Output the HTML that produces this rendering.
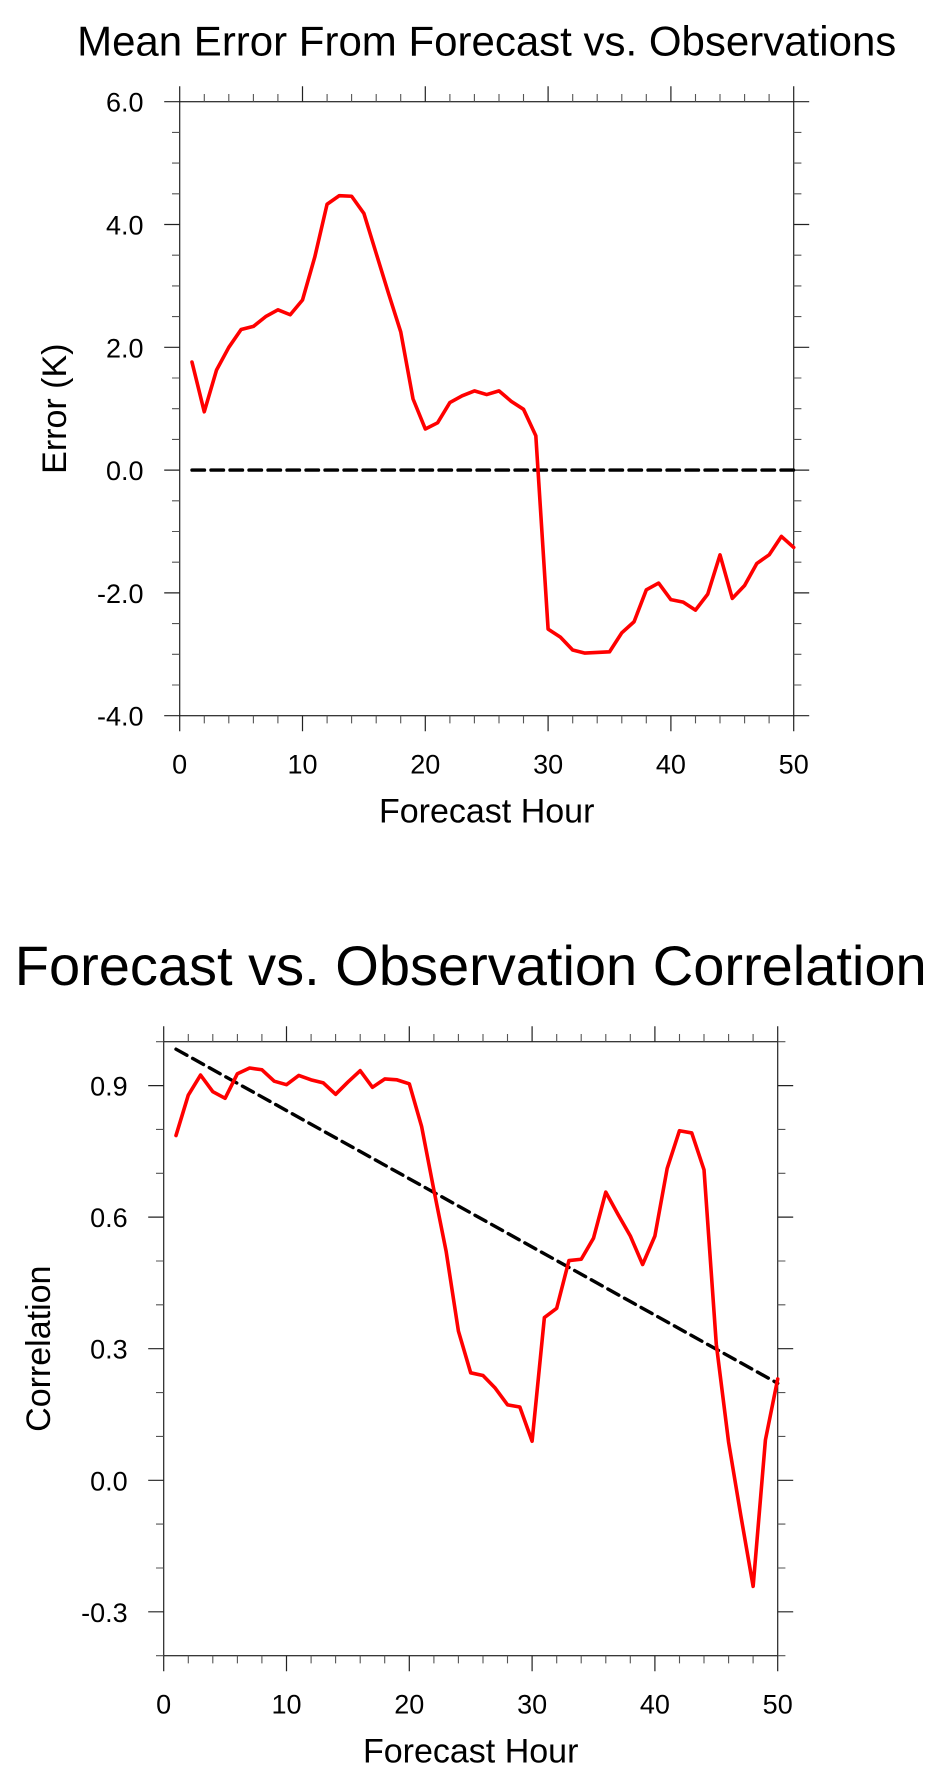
<!DOCTYPE html>
<html>
<head>
<meta charset="utf-8">
<style>
  html, body { margin: 0; padding: 0; background: #ffffff; }
  svg { display: block; }
  text { font-family: "Liberation Sans", "DejaVu Sans", sans-serif; fill: #000; }
</style>
</head>
<body>
<svg width="939" height="1773" viewBox="0 0 939 1773" xmlns="http://www.w3.org/2000/svg">
  <rect x="0" y="0" width="939" height="1773" fill="#ffffff"/>

  <!-- ================= PLOT 1 ================= -->
  <text x="486.7" y="55.7" font-size="42" text-anchor="middle">Mean Error From Forecast vs. Observations</text>

  <!-- frame -->
  <rect x="179.7" y="101.7" width="614" height="614" fill="none" stroke="#222" stroke-width="1.2"/>

  <!-- ticks -->
  <path fill="none" stroke="#222" stroke-width="1.2" d="
    M179.7 715.7V731.2 M302.5 715.7V731.2 M425.3 715.7V731.2 M548.1 715.7V731.2 M670.9 715.7V731.2 M793.7 715.7V731.2
    M179.7 101.7V86.2 M302.5 101.7V86.2 M425.3 101.7V86.2 M548.1 101.7V86.2 M670.9 101.7V86.2 M793.7 101.7V86.2
    M179.7 101.7H164.2 M179.7 224.5H164.2 M179.7 347.3H164.2 M179.7 470.1H164.2 M179.7 592.9H164.2 M179.7 715.7H164.2
    M793.7 101.7H809.2 M793.7 224.5H809.2 M793.7 347.3H809.2 M793.7 470.1H809.2 M793.7 592.9H809.2 M793.7 715.7H809.2"/>
  <path fill="none" stroke="#555" stroke-width="1.1" d="
    M204.3 715.7V723.4 M228.8 715.7V723.4 M253.4 715.7V723.4 M277.9 715.7V723.4
    M327.1 715.7V723.4 M351.6 715.7V723.4 M376.2 715.7V723.4 M400.7 715.7V723.4
    M449.9 715.7V723.4 M474.4 715.7V723.4 M499 715.7V723.4 M523.5 715.7V723.4
    M572.7 715.7V723.4 M597.2 715.7V723.4 M621.8 715.7V723.4 M646.3 715.7V723.4
    M695.5 715.7V723.4 M720 715.7V723.4 M744.6 715.7V723.4 M769.1 715.7V723.4
    M204.3 101.7V94 M228.8 101.7V94 M253.4 101.7V94 M277.9 101.7V94
    M327.1 101.7V94 M351.6 101.7V94 M376.2 101.7V94 M400.7 101.7V94
    M449.9 101.7V94 M474.4 101.7V94 M499 101.7V94 M523.5 101.7V94
    M572.7 101.7V94 M597.2 101.7V94 M621.8 101.7V94 M646.3 101.7V94
    M695.5 101.7V94 M720 101.7V94 M744.6 101.7V94 M769.1 101.7V94
    M179.7 132.4H172 M179.7 163.1H172 M179.7 193.8H172 M179.7 255.2H172 M179.7 285.9H172 M179.7 316.6H172
    M179.7 378H172 M179.7 408.7H172 M179.7 439.4H172 M179.7 500.8H172 M179.7 531.5H172 M179.7 562.2H172
    M179.7 623.6H172 M179.7 654.3H172 M179.7 685H172
    M793.7 132.4H801.4 M793.7 163.1H801.4 M793.7 193.8H801.4 M793.7 255.2H801.4 M793.7 285.9H801.4 M793.7 316.6H801.4
    M793.7 378H801.4 M793.7 408.7H801.4 M793.7 439.4H801.4 M793.7 500.8H801.4 M793.7 531.5H801.4 M793.7 562.2H801.4
    M793.7 623.6H801.4 M793.7 654.3H801.4 M793.7 685H801.4"/>

  <!-- y tick labels -->
  <g font-size="27" text-anchor="end">
    <text x="143.5" y="111.7">6.0</text>
    <text x="143.5" y="234.5">4.0</text>
    <text x="143.5" y="357.3">2.0</text>
    <text x="143.5" y="480.1">0.0</text>
    <text x="143.5" y="602.9">-2.0</text>
    <text x="143.5" y="725.7">-4.0</text>
  </g>
  <!-- x tick labels -->
  <g font-size="27" text-anchor="middle">
    <text x="179.7" y="773.3">0</text>
    <text x="302.5" y="773.3">10</text>
    <text x="425.3" y="773.3">20</text>
    <text x="548.1" y="773.3">30</text>
    <text x="670.9" y="773.3">40</text>
    <text x="793.7" y="773.3">50</text>
  </g>
  <text x="486.7" y="822.7" font-size="34" text-anchor="middle">Forecast Hour</text>
  <text transform="translate(66,408.7) rotate(-90)" x="0" y="0" font-size="34" text-anchor="middle">Error (K)</text>

  <!-- zero dashed line -->
  <line x1="192" y1="470.1" x2="793.7" y2="470.1" stroke="#000" stroke-width="3.4" stroke-dasharray="12.5 6.5" stroke-linecap="round"/>

  <!-- red series -->
  <g transform="translate(179.7,470.1) scale(12.28,-61.4)">
    <polyline fill="none" stroke="#ff0000" stroke-width="3.6" stroke-linejoin="round" stroke-linecap="round" vector-effect="non-scaling-stroke"
      points="1,1.76 2,0.95 3,1.63 4,2.0 5,2.29 6,2.34 7,2.5 8,2.61 9,2.53 10,2.77 11,3.47 12,4.33 13,4.47 14,4.46 15,4.18 16,3.53 17,2.88 18,2.25 19,1.16 20,0.67 21,0.77 22,1.1 23,1.21 24,1.29 25,1.23 26,1.29 27,1.12 28,0.99 29,0.56 30,-2.59 31,-2.72 32,-2.93 33,-2.98 34,-2.97 35,-2.96 36,-2.65 37,-2.47 38,-1.95 39,-1.84 40,-2.11 41,-2.15 42,-2.28 43,-2.02 44,-1.38 45,-2.09 46,-1.88 47,-1.52 48,-1.38 49,-1.08 50,-1.26"/>
  </g>

  <!-- ================= PLOT 2 ================= -->
  <text x="470.7" y="985" font-size="56" text-anchor="middle">Forecast vs. Observation Correlation</text>

  <rect x="163.7" y="1041.7" width="614" height="614" fill="none" stroke="#222" stroke-width="1.2"/>

  <path fill="none" stroke="#222" stroke-width="1.2" d="
    M163.7 1655.7V1671.2 M286.5 1655.7V1671.2 M409.3 1655.7V1671.2 M532.1 1655.7V1671.2 M654.9 1655.7V1671.2 M777.7 1655.7V1671.2
    M163.7 1041.7V1026.2 M286.5 1041.7V1026.2 M409.3 1041.7V1026.2 M532.1 1041.7V1026.2 M654.9 1041.7V1026.2 M777.7 1041.7V1026.2
    M163.7 1085.6H148.2 M163.7 1217.1H148.2 M163.7 1348.7H148.2 M163.7 1480.3H148.2 M163.7 1611.8H148.2
    M777.7 1085.6H793.2 M777.7 1217.1H793.2 M777.7 1348.7H793.2 M777.7 1480.3H793.2 M777.7 1611.8H793.2"/>
  <path fill="none" stroke="#555" stroke-width="1.1" d="
    M188.3 1655.7V1663.4 M212.8 1655.7V1663.4 M237.4 1655.7V1663.4 M261.9 1655.7V1663.4
    M311.1 1655.7V1663.4 M335.6 1655.7V1663.4 M360.2 1655.7V1663.4 M384.7 1655.7V1663.4
    M433.9 1655.7V1663.4 M458.4 1655.7V1663.4 M483 1655.7V1663.4 M507.5 1655.7V1663.4
    M556.7 1655.7V1663.4 M581.2 1655.7V1663.4 M605.8 1655.7V1663.4 M630.3 1655.7V1663.4
    M679.5 1655.7V1663.4 M704 1655.7V1663.4 M728.6 1655.7V1663.4 M753.1 1655.7V1663.4
    M188.3 1041.7V1034 M212.8 1041.7V1034 M237.4 1041.7V1034 M261.9 1041.7V1034
    M311.1 1041.7V1034 M335.6 1041.7V1034 M360.2 1041.7V1034 M384.7 1041.7V1034
    M433.9 1041.7V1034 M458.4 1041.7V1034 M483 1041.7V1034 M507.5 1041.7V1034
    M556.7 1041.7V1034 M581.2 1041.7V1034 M605.8 1041.7V1034 M630.3 1041.7V1034
    M679.5 1041.7V1034 M704 1041.7V1034 M728.6 1041.7V1034 M753.1 1041.7V1034
    M163.7 1041.7H156 M163.7 1129.4H156 M163.7 1173.3H156 M163.7 1261H156 M163.7 1304.8H156
    M163.7 1392.6H156 M163.7 1436.4H156 M163.7 1524.1H156 M163.7 1568H156 M163.7 1655.7H156
    M777.7 1041.7H785.4 M777.7 1129.4H785.4 M777.7 1173.3H785.4 M777.7 1261H785.4 M777.7 1304.8H785.4
    M777.7 1392.6H785.4 M777.7 1436.4H785.4 M777.7 1524.1H785.4 M777.7 1568H785.4 M777.7 1655.7H785.4"/>

  <g font-size="27" text-anchor="end">
    <text x="127.7" y="1095.6">0.9</text>
    <text x="127.7" y="1227.1">0.6</text>
    <text x="127.7" y="1358.7">0.3</text>
    <text x="127.7" y="1490.3">0.0</text>
    <text x="127.7" y="1621.8">-0.3</text>
  </g>
  <g font-size="27" text-anchor="middle">
    <text x="163.7" y="1713.3">0</text>
    <text x="286.5" y="1713.3">10</text>
    <text x="409.3" y="1713.3">20</text>
    <text x="532.1" y="1713.3">30</text>
    <text x="654.9" y="1713.3">40</text>
    <text x="777.7" y="1713.3">50</text>
  </g>
  <text x="470.7" y="1762.7" font-size="34" text-anchor="middle">Forecast Hour</text>
  <text transform="translate(50,1348.7) rotate(-90)" x="0" y="0" font-size="34" text-anchor="middle">Correlation</text>

  <!-- regression dashed line -->
  <line x1="176" y1="1049.2" x2="777.7" y2="1383.3" stroke="#000" stroke-width="3.4" stroke-dasharray="12.5 6.5" stroke-linecap="round"/>

  <g transform="translate(163.7,1480.27) scale(12.28,-438.57)">
    <polyline fill="none" stroke="#ff0000" stroke-width="3.6" stroke-linejoin="round" stroke-linecap="round" vector-effect="non-scaling-stroke"
      points="1,0.786 2,0.878 3,0.924 4,0.886 5,0.871 6,0.927 7,0.940 8,0.936 9,0.910 10,0.902 11,0.923 12,0.913 13,0.906 14,0.880 15,0.908 16,0.934 17,0.896 18,0.915 19,0.913 20,0.904 21,0.807 22,0.662 23,0.522 24,0.340 25,0.245 26,0.239 27,0.210 28,0.172 29,0.167 30,0.089 31,0.371 32,0.392 33,0.501 34,0.504 35,0.552 36,0.657 37,0.606 38,0.557 39,0.492 40,0.557 41,0.711 42,0.797 43,0.792 44,0.708 45,0.310 46,0.087 47,-0.081 48,-0.242 49,0.092 50,0.231"/>
  </g>
</svg>
</body>
</html>
